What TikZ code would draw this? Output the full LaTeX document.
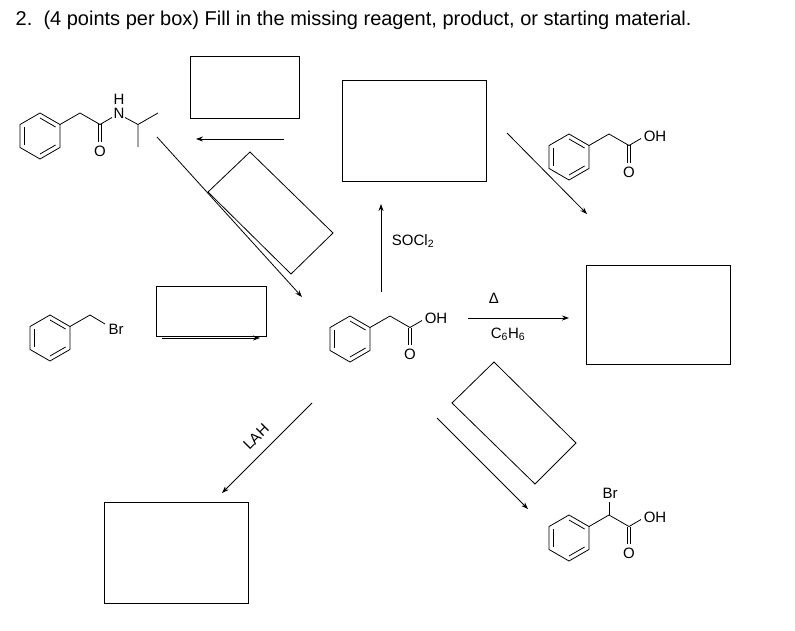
\documentclass[tikz,border=0pt]{standalone}
\usepackage{fontspec}
\setmainfont{Liberation Sans}
\usetikzlibrary{arrows.meta}
\newcommand\myring[2]{%
  \draw (#1,#2) ++(30:23) -- ++(150:23) -- ++(210:23) -- ++(270:23) -- ++(330:23) -- ++(30:23) -- cycle;
  \draw ($(#1,#2)+(90:18)$) -- ($(#1,#2)+(30:18)$);
  \draw ($(#1,#2)+(150:18)$) -- ($(#1,#2)+(210:18)$);
  \draw ($(#1,#2)+(270:18)$) -- ($(#1,#2)+(330:18)$);}
\usetikzlibrary{calc}
\begin{document}
\begin{tikzpicture}[x=1pt,y=-1pt,line width=0.8pt,
  lbl/.style={inner sep=0.5pt,font=\fontsize{15}{15}\selectfont},
  box/.style={draw,line width=0.8pt},
  arr/.style={-{Stealth[length=7pt,width=5pt]}}]
\useasboundingbox (0,0) rectangle (795,631);
\node[anchor=west,font=\fontsize{20}{22}\selectfont] (title) at (12,20) {2.\ \ (4 points per box) Fill in the missing reagent, product, or starting material.};
% boxes
\draw[box] (190,56) rectangle (299,118);
\draw[box] (342,80) rectangle (486,181);
\draw[box] (586,265) rectangle (730,364);
\draw[box] (104,502) rectangle (248,603);
\draw[box] (156,286) rectangle (266,336);
\draw[box] (250,152) -- (333,233) -- (291,274) -- (208,192) -- cycle;
\draw[box] (494,362) -- (576,443) -- (535,484) -- (452,403) -- cycle;
% amide
\myring{40}{136}
\draw (60,124.5) -- (80,113) -- (100,124.5) -- (112,117.5);
\draw (98.5,124.5) -- (98.5,142) (101.5,124.5) -- (101.5,142);
\node[lbl] (o1) at (100,151) {O};
\node[lbl] (n1) at (119,113) {N};
\node[lbl] (h1) at (119,99) {H};
\draw (125,117.5) -- (138,124.5) -- (158,113) (138,124.5) -- (138,147);
% benzyl bromide
\myring{50}{338}
\draw (70,326.5) -- (90,315) -- (105,324);
\node[lbl] (br1) at (116,329) {Br};
% center acid
\myring{350}{339}
\draw (370,327.5) -- (390,316) -- (410,327.5) -- (422,320.5);
\draw (408.5,327.5) -- (408.5,345) (411.5,327.5) -- (411.5,345);
\node[lbl] (o2) at (410,354) {O};
\node[lbl] (oh2) at (436,318) {OH};
% top right acid
\myring{569}{157}
\draw (589,145.5) -- (609,134) -- (629,145.5) -- (641,138.5);
\draw (627.5,145.5) -- (627.5,163) (630.5,145.5) -- (630.5,163);
\node[lbl] (o3) at (629,172) {O};
\node[lbl] (oh3) at (655,136) {OH};
% bottom right bromo acid
\myring{569}{538}
\draw (589,526.5) -- (609,515) -- (629,526.5) -- (641,519.5);
\draw (609,515) -- (609,502);
\draw (627.5,526.5) -- (627.5,544) (630.5,526.5) -- (630.5,544);
\node[lbl] (br2) at (610,493) {Br};
\node[lbl] (o4) at (629,553) {O};
\node[lbl] (oh4) at (655,517) {OH};
% arrows
\coordinate (a1s) at (284,139); \coordinate (a1e) at (196,139);
\draw[arr] (a1s) -- (a1e);
\coordinate (a2s) at (157,137); \coordinate (a2e) at (302,297);
\draw[arr] (a2s) -- (a2e);
\coordinate (a3s) at (162,338); \coordinate (a3e) at (260,338);
\draw[arr] (a3s) -- (a3e);
\coordinate (a4s) at (381,292); \coordinate (a4e) at (381,204);
\draw[arr] (a4s) -- (a4e);
\node[lbl] (socl) at (413,241) {SOCl\textsubscript{2}};
\coordinate (a5s) at (468,318); \coordinate (a5e) at (569,318);
\draw[arr] (a5s) -- (a5e);
\node[lbl] (delta) at (494,298) {Δ};
\node[lbl] (benz) at (508,334) {C\textsubscript{6}H\textsubscript{6}};
\coordinate (a6s) at (507,133); \coordinate (a6e) at (587,214);
\draw[arr] (a6s) -- (a6e);
\coordinate (a7s) at (312,403); \coordinate (a7e) at (222,493);
\draw[arr] (a7s) -- (a7e);
\node[lbl,rotate=45] (lah) at (256,437) {LAH};
\coordinate (a8s) at (437,418); \coordinate (a8e) at (528,509);
\draw[arr] (a8s) -- (a8e);
\end{tikzpicture}
\end{document}
